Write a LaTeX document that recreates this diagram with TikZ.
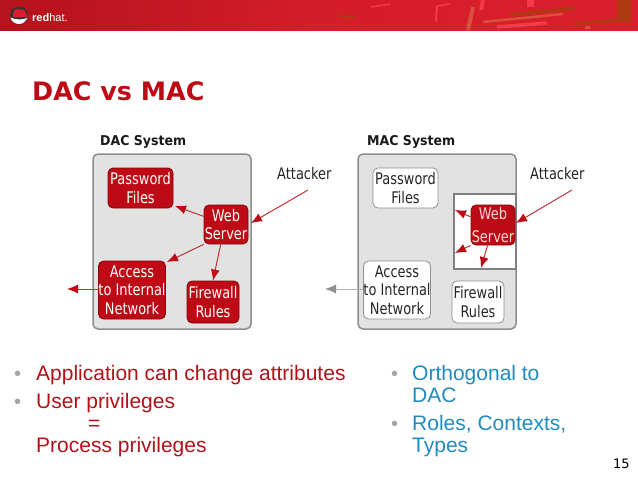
\documentclass[tikz,border=0pt]{standalone}
\usepackage{fontspec}
\setmainfont{Liberation Sans}
\newfontfamily\diagfont[FakeStretch=0.81]{DejaVu Sans}
\newfontfamily\headfont[FakeStretch=0.93]{DejaVu Sans}
\newfontfamily\titlefont{DejaVu Sans}
\usetikzlibrary{arrows.meta}
\definecolor{rhred}{HTML}{BE0A14}
\definecolor{rhdark}{HTML}{B4121C}
\definecolor{rhmid}{HTML}{DA1F2C}
\definecolor{rhlite}{HTML}{F23A48}
\definecolor{rhrust}{HTML}{AE3A12}
\definecolor{rhorange}{HTML}{D9503C}
\definecolor{boxgray}{HTML}{E2E2E2}
\definecolor{edgegray}{HTML}{8E8E8E}
\definecolor{textblue}{HTML}{1F8BBF}
\definecolor{textred}{HTML}{B01218}
\tikzset{
    system/.style={draw=edgegray, fill=boxgray, line width=1.5pt, rounded corners=5pt},
    redbox/.style={draw=rhred!70!black, fill=rhred, text=white, rounded corners=5pt, align=center,
        line width=0.8pt, inner sep=0pt, font=\diagfont\fontsize{16}{18.5}\selectfont},
    whitebox/.style={redbox, draw=edgegray, fill=white, text=black!85},
    heading/.style={font=\headfont\bfseries\fontsize{13.5}{16}\selectfont, text=black!90, inner sep=0pt},
    attacker/.style={font=\diagfont\fontsize{16}{18}\selectfont, text=black!85, inner sep=0pt},
    redarrow/.style={draw=rhred!85!white, line width=1pt, -{Latex[length=11pt,width=9pt,color=rhred]}},
    grayarrow/.style={draw=edgegray!70, line width=1pt, -{Latex[length=11pt,width=9pt,color=edgegray]}},
    bullet/.style={font=\fontsize{20}{24}\selectfont, text=edgegray!80, inner sep=0pt, anchor=base west},
    redline/.style={font=\fontsize{21}{24}\selectfont, text=textred, inner sep=0pt, anchor=base west},
    blueline/.style={font=\fontsize{21}{24}\selectfont, text=textblue, inner sep=0pt, anchor=base west},
}
\begin{document}
\begin{tikzpicture}[x=1pt, y=-1pt]
    \useasboundingbox (0,0) rectangle (638,479);

    % Draw the banner
    \shade[left color=rhdark, right color=rhmid, middle color=rhmid!85!rhdark] (0,0) rectangle (638,30);
    \foreach \xa/\ya/\xb/\yb/\col/\wid in {
        371/7/390/4/rhlite/1.5, 338/16/355/17/rhrust/2, 437/6/450/4/rhlite/1.5, 437/6/436/22/rhlite/2,
        473/7/468/30/rhorange/4, 483/0/481/10/rhlite/4, 530/0/530/7/rhlite/7,
        483/22/563/14/rhorange/2.5, 510/15/575/8/rhrust/3, 497/27/547/23/rhlite/3.5,
        575/24/627/19/rhrust/3, 624/0/624/22/rhrust/14, 400/12/400/28/rhmid/1, 585/27/590/27/rhorange/3} {
        \draw[color=\col, line width=\wid pt] (\xa,\ya) -- (\xb,\yb);
    }

    % Draw the logo
    \fill[black!80] (19,15.5) circle (9);
    \fill[rhmid] (13,17) .. controls (13,10) and (15,8) .. (19,9.5) .. controls (24,8) and (26,12) .. (27.5,17) -- cycle;
    \fill[white] (10.5,17.5) .. controls (15,20) and (23,20) .. (27.5,18) .. controls (25,21) and (24,24) .. (19,24) .. controls (15,24) and (11,21) .. (10.5,17.5) -- cycle;
    \node[text=white, inner sep=0pt, anchor=base west, font=\fontsize{11}{14}\selectfont] (brand) at (32,21) {\textbf{red}hat.};

    % Add the title
    \node[text=rhred, inner sep=0pt, anchor=base west, font=\titlefont\bfseries\fontsize{25.4}{32}\selectfont] (title) at (32,100) {DAC vs MAC};

    % DAC side
    \node[heading, anchor=base west] (dachead) at (100,145) {DAC System};
    \node[attacker, anchor=base west] (dacattacker) at (277,179) {Attacker};
    \draw[system] (93,154) rectangle (251,329);
    \node[redbox, minimum width=65pt, minimum height=40pt] (dacpass) at (140.5,188) {Password\\Files};
    \node[redbox, minimum width=44pt, minimum height=39pt] (dacweb) at (226,224.5) {Web\\Server};
    \node[redbox, minimum width=66pt, minimum height=58pt] (dacaccess) at (132,290) {Access\\to Internal\\Network};
    \node[redbox, minimum width=52pt, minimum height=42pt] (dacfire) at (213,302) {Firewall\\Rules};
    \coordinate (dacout) at (67,289);
    \coordinate (dacstart) at (308,190);
    \coordinate (dacin) at (251,223);
    \coordinate (dacup) at (175,206);
    \coordinate (dacleft) at (167,262);
    \draw[redarrow] (dacweb.160) -- (dacup);
    \draw[redarrow] (dacweb.south west) -- (dacleft);
    \draw[redarrow] (dacweb.-105) -- (dacfire.north);
    \draw[redarrow] (dacstart) -- (dacin);
    \draw[redarrow] (dacaccess.west |- dacout) -- (dacout);

    % MAC side
    \node[heading, anchor=base west] (machead) at (367,145) {MAC System};
    \node[attacker, anchor=base west] (macattacker) at (530,179) {Attacker};
    \draw[system] (358,154) rectangle (516,329);
    \draw[draw=edgegray!90!black, fill=white, line width=1.5pt] (454,194) rectangle (516,269);
    \node[whitebox, minimum width=65pt, minimum height=40pt] (macpass) at (405.5,188) {Password\\Files};
    \node[redbox, text=white!85!red, minimum width=44pt, minimum height=40pt, font=\diagfont\fontsize{16}{23}\selectfont] (macweb) at (493,225) {Web\\Server};
    \node[whitebox, minimum width=66pt, minimum height=58pt] (macaccess) at (397,290) {Access\\to Internal\\Network};
    \node[whitebox, minimum width=52pt, minimum height=42pt] (macfire) at (478,302) {Firewall\\Rules};
    \coordinate (macout) at (325,289);
    \coordinate (macstart) at (572,190);
    \coordinate (macin) at (516,223);
    \coordinate (macup) at (455,210);
    \coordinate (macleft) at (455,253);
    \coordinate (macdown) at (481,268);
    \draw[redarrow] (macweb.160) -- (macup);
    \draw[redarrow] (macweb.south west) -- (macleft);
    \draw[redarrow] (macweb.-105) -- (macdown);
    \draw[redarrow] (macstart) -- (macin);
    \draw[grayarrow] (macaccess.west |- macout) -- (macout);

    % Add the bullet text
    \node[bullet] (b1) at (14,380) {\textbullet};
    \node[bullet] (b2) at (14,408) {\textbullet};
    \node[redline] (l1) at (36,380) {Application can change attributes};
    \node[redline] (l2) at (36,408) {User privileges};
    \node[redline] (l3) at (88,430) {=};
    \node[redline] (l4) at (36,452) {Process privileges};
    \node[bullet] (b3) at (391,380) {\textbullet};
    \node[bullet] (b4) at (391,430) {\textbullet};
    \node[blueline] (r1) at (412,380) {Orthogonal to};
    \node[blueline] (r2) at (412,402) {DAC};
    \node[blueline] (r3) at (412,430) {Roles, Contexts,};
    \node[blueline] (r4) at (412,452) {Types};

    % Add the page number
    \node[inner sep=0pt, anchor=base west, font=\titlefont\fontsize{13}{16}\selectfont] (page) at (613,468) {15};
\end{tikzpicture}
\end{document}
